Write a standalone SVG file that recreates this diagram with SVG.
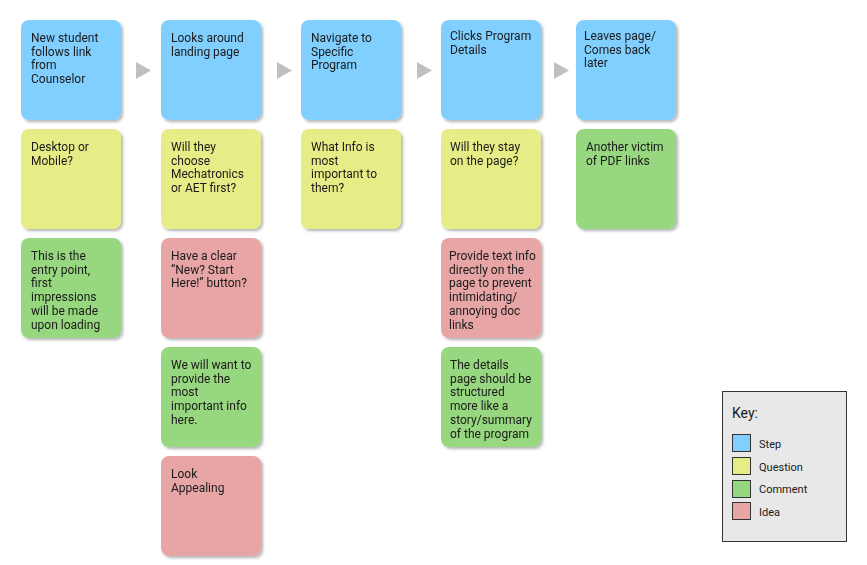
<svg xmlns="http://www.w3.org/2000/svg" width="867" height="565" viewBox="0 0 867 565">
<style>
.c{stroke:none}
.s{fill:#80cfff}.q{fill:#e6ed87}.m{fill:#97d77f}.i{fill:#e8a5a6}
text{font-family:Roboto,"Liberation Sans",sans-serif;font-size:12px;fill:#1a1a1a}
.k{font-size:11px}
.arr{fill:#c0c0c0}
</style>
<defs>
<filter id="sh" x="-10%" y="-10%" width="130%" height="130%">
<feGaussianBlur in="SourceAlpha" stdDeviation="1.5"/>
<feOffset dx="2" dy="2" result="b"/>
<feComponentTransfer><feFuncA type="linear" slope="0.3"/></feComponentTransfer>
<feMerge><feMergeNode/><feMergeNode in="SourceGraphic"/></feMerge>
</filter>
</defs>
<rect width="867" height="565" fill="#fff"/>
<g id="connectors">
<polygon class="arr" points="136,62 151,70.5 136,79"/>
<polygon class="arr" points="277,62 292,70.5 277,79"/>
<polygon class="arr" points="417,62 432,70.5 417,79"/>
<polygon class="arr" points="554,62 569,70.5 554,79"/>
</g>
<g id="step1" filter="url(#sh)"><rect class="s" x="21" y="20" width="100" height="100" rx="8"/><text x="31" y="42">New student<tspan x="31" dy="13.7">follows link</tspan><tspan x="31" dy="13.7">from</tspan><tspan x="31" dy="13.7">Counselor</tspan></text></g>
<g id="step2" filter="url(#sh)"><rect class="s" x="161" y="20" width="100" height="100" rx="8"/><text x="171" y="42">Looks around<tspan x="171" dy="13.7">landing page</tspan></text></g>
<g id="step3" filter="url(#sh)"><rect class="s" x="301" y="20" width="100" height="100" rx="8"/><text x="311" y="42">Navigate to<tspan x="311" dy="13.7">Specific</tspan><tspan x="311" dy="13.7">Program</tspan></text></g>
<g id="step4" filter="url(#sh)"><rect class="s" x="441" y="20" width="100" height="100" rx="8"/><text x="450" y="40">Clicks Program<tspan x="450" dy="13.7">Details</tspan></text></g>
<g id="step5" filter="url(#sh)"><rect class="s" x="576" y="20" width="100" height="100" rx="8"/><text x="584" y="40">Leaves page/<tspan x="584" dy="13.7">Comes back</tspan><tspan x="584" dy="13.7">later</tspan></text></g>

<g id="q1" filter="url(#sh)"><rect class="q" x="21" y="129" width="100" height="100" rx="8"/><text x="31" y="151">Desktop or<tspan x="31" dy="13.7">Mobile?</tspan></text></g>
<g id="q2" filter="url(#sh)"><rect class="q" x="161" y="129" width="100" height="100" rx="8"/><text x="171" y="151">Will they<tspan x="171" dy="13.7">choose</tspan><tspan x="171" dy="13.7">Mechatronics</tspan><tspan x="171" dy="13.7">or AET first?</tspan></text></g>
<g id="q3" filter="url(#sh)"><rect class="q" x="301" y="129" width="100" height="100" rx="8"/><text x="311" y="151">What Info is<tspan x="311" dy="13.7">most</tspan><tspan x="311" dy="13.7">important to</tspan><tspan x="311" dy="13.7">them?</tspan></text></g>
<g id="q4" filter="url(#sh)"><rect class="q" x="441" y="129" width="100" height="100" rx="8"/><text x="450" y="151">Will they stay<tspan x="450" dy="13.7">on the page?</tspan></text></g>
<g id="c5" filter="url(#sh)"><rect class="m" x="576" y="129" width="100" height="100" rx="8"/><text x="586" y="151">Another victim<tspan x="586" dy="13.7">of PDF links</tspan></text></g>

<g id="c1" filter="url(#sh)"><rect class="m" x="21" y="238" width="100" height="100" rx="8"/><text x="31" y="260">This is the<tspan x="31" dy="13.7">entry point,</tspan><tspan x="31" dy="13.7">first</tspan><tspan x="31" dy="13.7">impressions</tspan><tspan x="31" dy="13.7">will be made</tspan><tspan x="31" dy="13.7">upon loading</tspan></text></g>
<g id="i2" filter="url(#sh)"><rect class="i" x="161" y="238" width="100" height="100" rx="8"/><text x="171" y="260">Have a clear<tspan x="171" dy="13.7">“New? Start</tspan><tspan x="171" dy="13.7">Here!” button?</tspan></text></g>
<g id="i4" filter="url(#sh)"><rect class="i" x="441" y="238" width="100" height="100" rx="8"/><text x="449" y="260">Provide text info<tspan x="449" dy="13.7">directly on the</tspan><tspan x="449" dy="13.7">page to prevent</tspan><tspan x="449" dy="13.7">intimidating/</tspan><tspan x="449" dy="13.7">annoying doc</tspan><tspan x="449" dy="13.7">links</tspan></text></g>

<g id="c2" filter="url(#sh)"><rect class="m" x="161" y="347" width="100" height="100" rx="8"/><text x="171" y="369">We will want to<tspan x="171" dy="13.7">provide the</tspan><tspan x="171" dy="13.7">most</tspan><tspan x="171" dy="13.7">important info</tspan><tspan x="171" dy="13.7">here.</tspan></text></g>
<g id="c4" filter="url(#sh)"><rect class="m" x="441" y="347" width="100" height="100" rx="8"/><text x="450" y="369">The details<tspan x="450" dy="13.7">page should be</tspan><tspan x="450" dy="13.7">structured</tspan><tspan x="450" dy="13.7">more like a</tspan><tspan x="450" dy="13.7">story/summary</tspan><tspan x="450" dy="13.7">of the program</tspan></text></g>

<g id="i2b" filter="url(#sh)"><rect class="i" x="161" y="456" width="100" height="100" rx="8"/><text x="171" y="478">Look<tspan x="171" dy="13.7">Appealing</tspan></text></g>

<g id="key">
<rect x="722.5" y="391.5" width="124" height="150" fill="#e8e8e8" stroke="#333" stroke-width="1"/>
<text x="732" y="418" style="font-size:14px">Key:</text>
<rect x="732.5" y="434.5" width="18" height="17" fill="#80cfff" stroke="#333"/>
<text class="k" x="759" y="448">Step</text>
<rect x="732.5" y="457.5" width="18" height="17" fill="#e6ed87" stroke="#333"/>
<text class="k" x="759" y="471">Question</text>
<rect x="732.5" y="480.5" width="18" height="17" fill="#97d77f" stroke="#333"/>
<text class="k" x="759" y="493">Comment</text>
<rect x="732.5" y="502.5" width="18" height="17" fill="#e8a5a6" stroke="#333"/>
<text class="k" x="759" y="516">Idea</text>
</g>
</svg>
